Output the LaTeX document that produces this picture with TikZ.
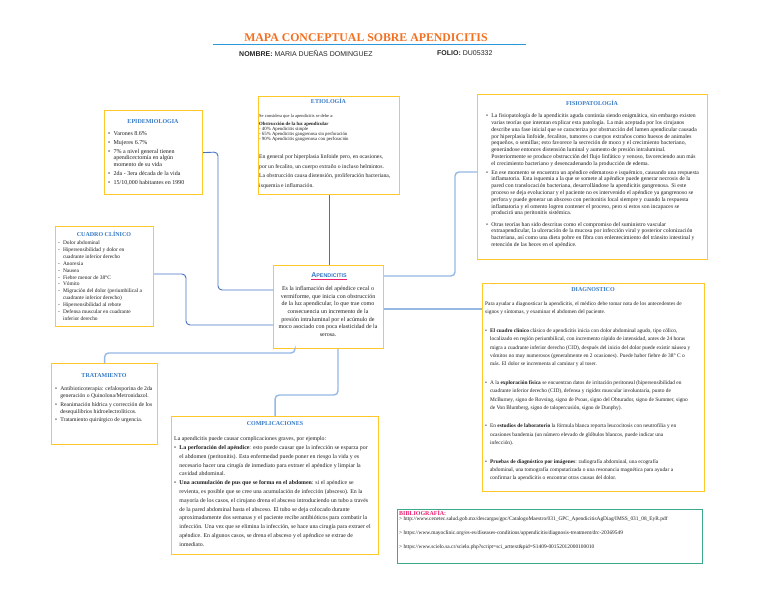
\documentclass[tikz,border=0pt]{standalone}
\usepackage{fontspec}
\setmainfont{Liberation Serif}
\newfontfamily\namefont{Liberation Sans}
\definecolor{titorange}{RGB}{243,112,33}
\definecolor{hdblue}{RGB}{52,120,196}
\definecolor{rulblue}{RGB}{41,152,216}
\definecolor{boxgold}{RGB}{255,200,40}
\definecolor{linkblue}{RGB}{70,114,196}
\definecolor{linklight}{RGB}{150,185,228}
\definecolor{bibteal}{RGB}{60,168,140}
\definecolor{bibpink}{RGB}{236,30,110}
\definecolor{txtgray}{RGB}{30,30,30}
\newcommand{\fs}[2]{\fontsize{#1}{#2}\selectfont}
\newcommand{\bu}{\makebox[0.9em][l]{\textbullet}}
\newcommand{\dsh}{\makebox[0.9em][l]{-}}
\newcommand{\hg}{\hspace*{0.9em}}

\begin{document}
\begin{tikzpicture}[x=1pt,y=-1pt,
  box/.style={draw=boxgold,line width=1.2pt,anchor=north west,inner sep=0pt},
  hd/.style={font=\fs{6}{7}\bfseries,text=hdblue,inner sep=0pt},
  txt/.style={anchor=north west,inner sep=0pt,align=left,text=txtgray},
  link/.style={draw=linkblue,line width=0.9pt,rounded corners=4pt},
  linkl/.style={draw=linklight,line width=1.4pt,rounded corners=4pt}]
\useasboundingbox[fill=white] (0,0) rectangle (768,594);
% encabezado
\node[font=\fs{11.8}{13}\bfseries,text=titorange,inner sep=0pt] (titulo) at (366,38) {MAPA CONCEPTUAL SOBRE APENDICITIS};
\coordinate (rA) at (213,44.5);
\coordinate (rB) at (526,44.5);
\draw[rulblue,line width=1.1pt] (rA) -- (rB);
\node[font=\namefont\fs{7}{8},anchor=west,inner sep=0pt,text=black!85] (nombre) at (239,53) {\textbf{NOMBRE:} MARIA DUEÑAS DOMINGUEZ};
\node[font=\namefont\fs{7}{8},anchor=west,inner sep=0pt,text=black!85] (folio) at (437,53) {\textbf{FOLIO:} DU05332};
% cajas
\node[box,minimum width=98pt,minimum height=84pt] (epi) at (104,110) {};
\node[box,minimum width=141pt,minimum height=98pt] (eti) at (258,96) {};
\node[box,minimum width=230pt,minimum height=165pt] (fis) at (477,94) {};
\node[box,minimum width=98pt,minimum height=100pt] (cua) at (55,226) {};
\node[box,minimum width=110pt,minimum height=83pt] (apx) at (273,265) {};
\node[box,minimum width=222pt,minimum height=208pt] (dia) at (482,283) {};
\node[box,minimum width=106pt,minimum height=81pt] (tra) at (51,363) {};
\node[box,minimum width=207pt,minimum height=138pt] (com) at (171,416) {};
\node[box,draw=bibteal,line width=1.4pt,minimum width=305pt,minimum height=54pt] (bib) at (397,509) {};
% titulos de caja
\node[hd] (epihd) at (153,122) {EPIDEMIOLOGIA};
\node[hd] (etihd) at (328.5,100.5) {ETIOLOGÍA};
\node[hd] (fishd) at (592,103) {FISIOPATOLOGÍA};
\node[hd] (cuahd) at (104,234) {CUADRO CLÍNICO};
\node[hd] (diahd) at (593,290) {DIAGNOSTICO};
\node[hd] (trahd) at (104,376) {TRATAMIENTO};
\node[hd] (comhd) at (275,424) {COMPLICACIONES};
\node[hd,text=bibpink,anchor=west] (bibhd) at (399,512.5) {BIBLIOGRAFÍA:};
\node[font=\namefont\bfseries,text=hdblue,inner sep=0pt] (apxhd) at (329,275) {\fs{7}{8}A\fs{5.4}{6}PENDICITIS};
\draw[bibpink,line width=0.8pt] ([yshift=-1.5pt]apxhd.south west) -- ([yshift=-1.5pt]apxhd.south east);
% textos
\node[txt,font=\fs{6}{6.8}] (epitx) at (108,131.3) {\bu Varones 8.6\%\\[2pt] \bu Mujeres 6.7\%\\[2pt] \bu 7\% a nivel general tienen\\ \hg apendicectomía en algún\\ \hg momento de su vida\\[2pt] \bu 2da - 3era década de la vida\\[2pt] \bu 15/10,000 habitantes en 1990};
\node[txt,font=\fs{4.8}{5.1}] (etitx) at (259,113.9) {\fs{4.5}{5.1}Se considera que la apendicitis se debe a:\\[2.8pt] \textbf{Obstrucción de la luz apendicular}\\ - 40\% Apendicitis simple\\ - 65\% Apendicitis gangrenosa sin perforación\\ - 90\% Apendicitis gangrenosa con perforación};
\node[txt,font=\fs{5.7}{9.6}] (etitx2) at (259,154.4) {En general por hiperplasia linfoide pero, en ocasiones,\\ por un fecalito, un cuerpo extraño o incluso helmintos.\\ La obstrucción causa distensión, proliferación bacteriana,\\ isquemia e inflamación.};
\node[txt,font=\fs{5.7}{6.8}] (fistx) at (486,113.4) {\bu La fisiopatología de la apendicitis aguda continúa siendo enigmática, sin embargo existen\\
\hg varias teorías que intentan explicar esta patología. La más aceptada por los cirujanos\\
\hg describe una fase inicial que se caracteriza por obstrucción del lumen apendicular causada\\
\hg por hiperplasia linfoide, fecalitos, tumores o cuerpos extraños como huesos de animales\\
\hg pequeños, o semillas; esto favorece la secreción de moco y el crecimiento bacteriano,\\
\hg generándose entonces distensión luminal y aumento de presión intraluminal.\\
\hg Posteriormente se produce obstrucción del flujo linfático y venoso, favoreciendo aun más\\
\hg el crecimiento bacteriano y desencadenando la producción de edema.\\[2pt]
\bu En ese momento se encuentra un apéndice edematoso e isquémico, causando una respuesta\\
\hg inflamatoria. Esta isquemia a la que se somete al apéndice puede generar necrosis de la\\
\hg pared con translocación bacteriana, desarrollándose la apendicitis gangrenosa. Si este\\
\hg proceso se deja evolucionar y el paciente no es intervenido el apéndice ya gangrenoso se\\
\hg perfora y puede generar un absceso con peritonitis local siempre y cuando la respuesta\\
\hg inflamatoria y el omento logren contener el proceso, pero si estos son incapaces se\\
\hg producirá una peritonitis sistémica.\\[4.5pt]
\bu Otras teorías han sido descritas como el compromiso del suministro vascular\\
\hg extraapendicular, la ulceración de la mucosa por infección viral y posterior colonización\\
\hg bacteriana, así como una dieta pobre en fibra con enlentecimiento del tránsito intestinal y\\
\hg retención de las heces en el apéndice.};
\node[txt,font=\fs{5.4}{6.9}] (cuatx) at (58,240.6) {\dsh Dolor abdominal\\ \dsh Hipersensibilidad y dolor en\\ \hg cuadrante inferior derecho\\ \dsh Anorexia\\ \dsh Nausea\\ \dsh Fiebre menor de 38°C\\ \dsh Vómito\\ \dsh Migración del dolor (periumbilical a\\ \hg cuadrante inferior derecho)\\ \dsh Hipersensibilidad al rebote\\ \dsh Defensa muscular en cuadrante\\ \hg inferior derecho};
\node[txt,anchor=north,align=center,font=\fs{6}{7.6}] (apxtx) at (328,286.3) {Es la inflamación del apéndice cecal o\\ vermiforme, que inicia con obstrucción\\ de la luz apendicular, lo que trae como\\ consecuencia un incremento de la\\ presión intraluminal por el acúmulo de\\ moco asociado con poca elasticidad de la\\ serosa.};
\node[txt,font=\fs{5.4}{8.4}] (diatx) at (485,301.6) {Para ayudar a diagnosticar la apendicitis, el médico debe tomar nota de los antecedentes de\\
signos y síntomas, y examinar el abdomen del paciente.\\[10pt]
\bu \textbf{El cuadro clínico} clásico de apendicitis inicia con dolor abdominal agudo, tipo cólico,\\
\hg localizado en región periumbilical, con incremento rápido de intensidad, antes de 24 horas\\
\hg migra a cuadrante inferior derecho (CID), después del inicio del dolor puede existir náusea y\\
\hg vómitos no muy numerosos (generalmente en 2 ocasiones). Puede haber fiebre de 38° C o\\
\hg más. El dolor se incrementa al caminar y al toser.\\[10pt]
\bu A la \textbf{exploración física} se encuentran datos de irritación peritoneal (hipersensibilidad en\\
\hg cuadrante inferior derecho (CID), defensa y rigidez muscular involuntaria, punto de\\
\hg McBurney, signo de Rovsing, signo de Psoas, signo del Obturador, signo de Summer, signo\\
\hg de Von Blumberg, signo de talopercusión, signo de Dunphy).\\[10pt]
\bu En \textbf{estudios de laboratorio} la fórmula blanca reporta leucocitosis con neutrofilia y en\\
\hg ocasiones bandemia (un número elevado de glóbulos blancos, puede indicar una\\
\hg infección).\\[10pt]
\bu \textbf{Pruebas de diagnóstico por imágenes}: radiografía abdominal, una ecografía\\
\hg abdominal, una tomografía computarizada o una resonancia magnética para ayudar a\\
\hg confirmar la apendicitis o encontrar otras causas del dolor.};
\node[txt,font=\fs{5.7}{7.2}] (tratx) at (55,386.4) {\bu Antibioticoterapia: cefalosporina de 2da\\ \hg generación o Quinolona/Metronidazol.\\[1pt] \bu Reanimación hídrica y corrección de los\\ \hg desequilibrios hidroelectrolíticos.\\[1pt] \bu Tratamiento quirúrgico de urgencia.};
\node[txt,font=\fs{5.85}{8.8}] (comtx) at (174,436.4) {La apendicitis puede causar complicaciones graves, por ejemplo:\\
\bu \textbf{La perforación del apéndice}: esto puede causar que la infección se esparza por\\
\hg el abdomen (peritonitis). Esta enfermedad puede poner en riesgo la vida y es\\
\hg necesario hacer una cirugía de inmediato para extraer el apéndice y limpiar la\\
\hg cavidad abdominal.\\
\bu \textbf{Una acumulación de pus que se forma en el abdomen}: si el apéndice se\\
\hg revienta, es posible que se cree una acumulación de infección (absceso). En la\\
\hg mayoría de los casos, el cirujano drena el absceso introduciendo un tubo a través\\
\hg de la pared abdominal hasta el absceso. El tubo se deja colocado durante\\
\hg aproximadamente dos semanas y el paciente recibe antibióticos para combatir la\\
\hg infección. Una vez que se elimina la infección, se hace una cirugía para extraer el\\
\hg apéndice. En algunos casos, se drena el absceso y el apéndice se extrae de\\
\hg inmediato.};
\node[txt,font=\fs{5.4}{8}] (bibtx) at (399,516.6) {> http://www.cenetec.salud.gob.mx/descargas/gpc/CatalogoMaestro/031\_GPC\_ApendicitisAgDiag/IMSS\_031\_08\_EyR.pdf\\[6pt]
> https://www.mayoclinic.org/es-es/diseases-conditions/appendicitis/diagnosis-treatment/drc-20369549\\[6pt]
> https://www.scielo.sa.cr/scielo.php?script=sci\_arttext\&pid=S1409-00152012000100010};
% conectores
\draw[link] (epi.east) -- (218,152) -- (218,290) -- (apx.west |- 0,290);
\draw[link] (eti.south) -- (apx.north -| eti.south);
\draw[linkl] (apx.east |- 0,276) -- (455,276) -- (455,172) -- (fis.west |- 0,172);
\draw[linkl] (apx.east |- 0,309) -- (dia.west |- 0,309);
\draw[link] (cua.east |- 0,274) -- (186,274) -- (186,325) -- (apx.west |- 0,325);
\draw[linkl] (apx.south -| 295,0) -- (295,353) -- (tra.north |- 0,353) -- (tra.north);
\draw[linkl] (apx.south -| 338,0) -- (338,395) -- (com.north |- 0,395) -- (com.north);
\end{tikzpicture}
\end{document}
